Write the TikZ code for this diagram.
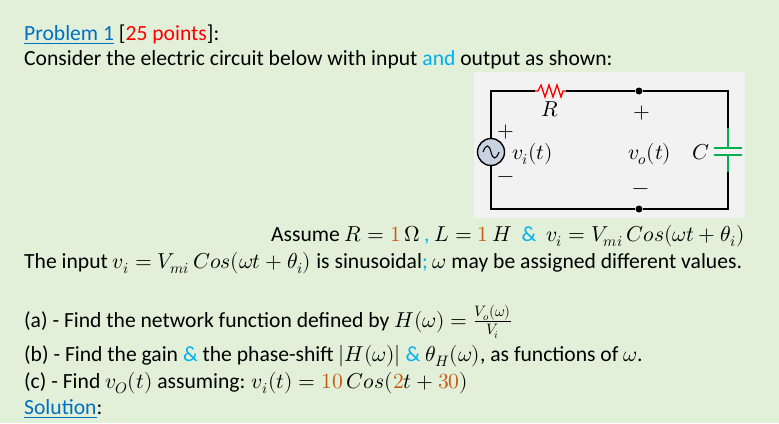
\documentclass[tikz,border=0pt]{standalone}
\usepackage{fontspec}
\usepackage{unicode-math}
\setmainfont{Carlito}
\setmathfont{Latin Modern Math}
\usepackage{xcolor}
\definecolor{bg}{RGB}{226,240,217}
\definecolor{box}{RGB}{242,242,242}
\definecolor{lnk}{RGB}{0,112,192}
\definecolor{org}{RGB}{197,90,17}
\definecolor{cyn}{RGB}{0,176,240}
\definecolor{grn}{RGB}{0,176,80}
\definecolor{src}{RGB}{200,210,225}
\tikzset{txt/.style={anchor=base west,inner sep=0,font=\fontsize{21.6}{24}\selectfont},
 rtxt/.style={anchor=base east,inner sep=0,font=\fontsize{21.6}{24}\selectfont},
 wire/.style={line width=1.6pt},
 dot/.style={circle,fill=black,inner sep=0,minimum size=7pt}}
\begin{document}
\begin{tikzpicture}[x=1pt,y=-1pt]
\fill[bg] (0,0) rectangle (779,423);
\useasboundingbox (0,0) rectangle (779,423);
\fill[box] (474,72) rectangle (745,218);
\node[txt] (t1) at (24,40) {\textcolor{lnk}{\underline{Problem 1}} [\textcolor{red}{25 points}]:};
\node[txt] (t2) at (24,65) {Consider the electric circuit below with input \textcolor{cyn}{and} output as shown:};
\node[rtxt] (t3) at (745,241) {Assume $R=\textcolor{org}{1}\,\Omega$\,\textcolor{cyn}{,} $L=\textcolor{org}{1}\,H$ \ \textcolor{cyn}{\&} \ $v_i=V_{mi}\,Cos(\omega t+\theta_i)$};
\node[txt] (t4) at (24,268) {The input $v_i=V_{mi}\,Cos(\omega t+\theta_i)$ is sinusoidal\textcolor{cyn}{;} $\omega$ may be assigned different values.};
\node[txt] (t5) at (24,327) {(a) - Find the network function defined by $H(\omega)=\frac{V_o(\omega)}{V_i}$};
\node[txt] (t6) at (24,361) {(b) - Find the gain \textcolor{cyn}{\&} the phase-shift $|H(\omega)|$ \textcolor{cyn}{\&} $\theta_H(\omega)$, as functions of $\omega$.};
\node[txt] (t7) at (24,388) {(c) - Find $v_O(t)$ assuming: $v_i(t)=\textcolor{org}{10}\,Cos(\textcolor{org}{2}t+\textcolor{org}{30})$};
\node[txt] (t8) at (24,414) {\textcolor{lnk}{\underline{Solution}}:};
% circuit
\coordinate (tl) at (491,91); \coordinate (bl) at (491,209);
\coordinate (tr) at (728,91); \coordinate (br) at (728,209);
\coordinate (r1) at (535,91); \coordinate (r2) at (566,91);
\node[dot] (nt) at (639,91) {}; \node[dot] (nb) at (639,209) {};
\node[circle,draw,line width=1.4pt,fill=src,minimum size=27pt,inner sep=0] (s) at (491,152) {};
\draw[line width=1.1pt] (483,152) .. controls (486,144) and (489,144) .. (491,152) .. controls (493,160) and (496,160) .. (499,152);
\coordinate (c1) at (728,148); \coordinate (c2) at (728,155);
\draw[wire] (s.north) -- (tl) -- (r1);
\draw[wire,red,line width=1.3pt] (r1) -- ++(3,0) -- ++(3,-6) -- ++(4,12) -- ++(4,-12) -- ++(4,12) -- ++(4,-12) -- ++(4,12) -- ++(2,-6) -- (r2);
\draw[wire] (r2) -- (nt) -- (tr) -- (728,128);
\draw[grn,line width=1.4pt] (728,128) -- (c1) (c2) -- (728,172);
\draw[grn,line width=1.6pt] (714,148) -- (742,148) (714,155) -- (742,155);
\draw[wire] (728,172) -- (br) -- (nb) -- (bl) -- (s.south);
\node[txt] (lR) at (541,116) {$R$};
\node[txt] (p1) at (633,118) {$+$};
\node[txt] (p2) at (497,137) {$+$};
\node[txt] (m1) at (497,182) {$-$};
\node[txt] (m2) at (632,194) {$-$};
\node[txt] (vi) at (512,159) {$v_i(t)$};
\node[txt] (vo) at (628,159) {$v_o(t)$};
\node[txt] (lc) at (692,159) {$C$};
\end{tikzpicture}
\end{document}
